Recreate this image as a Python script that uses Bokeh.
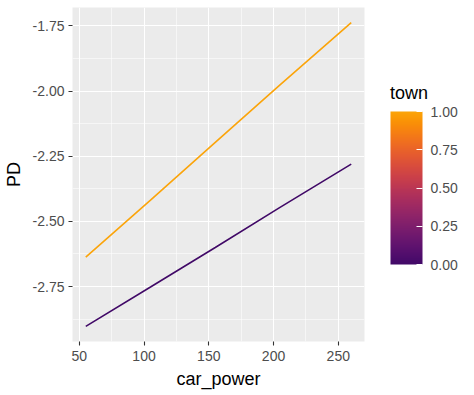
from bokeh.plotting import figure
from bokeh.models import (ColumnDataSource, FixedTicker, LinearColorMapper, ColorBar,
                          NumeralTickFormatter, Range1d, Legend, LegendItem)
from bokeh.palettes import Inferno256
from bokeh.transform import linear_cmap
from bokeh.embed import file_html
from bokeh.resources import INLINE

# ---- data ----
car_power_low = [55, 105, 155, 205, 260]
pd_town0 = [-2.903, -2.752, -2.600, -2.446, -2.280]
car_power_high = [55, 105, 155, 205, 260]
pd_town1 = [-2.637, -2.418, -2.197, -1.976, -1.737]
town_values = [0.0, 1.0]

x_ticks = [50, 100, 150, 200, 250]
x_minor = [75, 125, 175, 225]
y_ticks = [-2.75, -2.50, -2.25, -2.00, -1.75]
y_minor = [-2.875, -2.625, -2.375, -2.125, -1.875]
legend_ticks = [0.0, 0.25, 0.5, 0.75, 1.0]
legend_title = "town"

palette = Inferno256[51:205]

FONT = "Liberation Sans"

src = ColumnDataSource(dict(
    xs=[car_power_low, car_power_high],
    ys=[pd_town0, pd_town1],
    town=town_values,
))

p = figure(frame_width=292, frame_height=334, output_backend="svg", toolbar_location=None,
           x_range=Range1d(44.75, 270.25), y_range=Range1d(-2.961, -1.679),
           min_border_left=62, min_border_right=104, min_border_top=7, min_border_bottom=38)

p.background_fill_color = "#EBEBEB"
p.border_fill_color = "white"
p.outline_line_color = None

p.multi_line(xs="xs", ys="ys", source=src, line_width=1.6,
             line_color=linear_cmap("town", palette, 0, 1))

for ax, ticks, minor in ((p.xaxis, x_ticks, x_minor), (p.yaxis, y_ticks, y_minor)):
    ax.ticker = FixedTicker(ticks=ticks, minor_ticks=minor)
    ax.axis_line_color = None
    ax.major_tick_line_color = "#333333"
    ax.major_tick_line_width = 1.1
    ax.major_tick_out = 4
    ax.major_tick_in = 0
    ax.minor_tick_line_color = None
    ax.major_label_text_font = FONT
    ax.major_label_text_font_size = "14px"
    ax.major_label_text_color = "#4D4D4D"
    ax.axis_label_text_font = FONT
    ax.axis_label_text_font_size = "18px"
    ax.axis_label_text_font_style = "normal"
    ax.axis_label_text_color = "black"

p.xaxis.axis_label = "car_power"
p.yaxis.axis_label = "PD"
p.yaxis.formatter = NumeralTickFormatter(format="0.00")
p.xaxis.major_label_standoff = 5
p.yaxis.major_label_standoff = 4
p.xaxis.axis_label_standoff = 5
p.yaxis.axis_label_standoff = 6

for g in (p.xgrid, p.ygrid):
    g.grid_line_color = "white"
    g.grid_line_width = 1.1
    g.minor_grid_line_color = "white"
    g.minor_grid_line_width = 0.55

mapper = LinearColorMapper(palette=palette, low=0, high=1)
cb = ColorBar(color_mapper=mapper, width=32, height=153,
              ticker=FixedTicker(ticks=legend_ticks),
              formatter=NumeralTickFormatter(format="0.00"),
              major_label_text_font=FONT, major_label_text_font_size="14px",
              major_label_text_color="#4D4D4D", label_standoff=8,
              major_tick_line_color="white", major_tick_in=6, major_tick_out=0,
              bar_line_color=None, padding=0, margin=0,
              location=(318, 77), background_fill_color=None, border_line_color=None)
p.add_layout(cb, "center")

# legend title for the colour bar, drawn as a legend entry with an invisible glyph
dummy = p.scatter(x=[], y=[], size=0, alpha=0)
leg = Legend(items=[LegendItem(label=legend_title, renderers=[dummy])],
             location=(26, 237), glyph_width=0, glyph_height=20, label_height=20,
             label_standoff=0, padding=0, margin=0, spacing=0,
             label_text_font=FONT, label_text_font_size="18px", label_text_color="black",
             border_line_color=None, background_fill_color=None, background_fill_alpha=0)
p.add_layout(leg, "right")

open("out.html", "w").write(file_html(p, INLINE))
